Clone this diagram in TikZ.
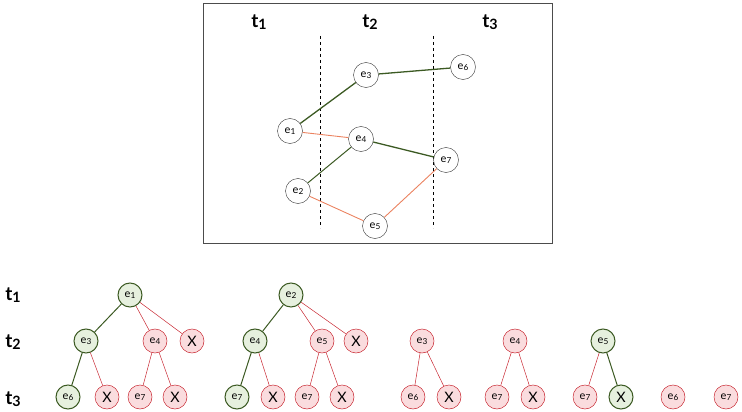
\documentclass[tikz,border=0pt]{standalone}
\usepackage{fontspec}
\setmainfont{Lato}
\definecolor{dg}{RGB}{60,90,35}
\definecolor{gf}{RGB}{230,240,222}
\definecolor{pf}{RGB}{250,220,222}
\definecolor{rl}{RGB}{200,40,50}
\definecolor{ol}{RGB}{235,130,95}
\newcommand{\sbx}[1]{\raisebox{-0.25ex}{\scalebox{0.75}{#1}}}
\begin{document}
\begin{tikzpicture}[x=1pt,y=-1pt,
 wn/.style={circle,draw=black!80,fill=white,minimum size=25pt,inner sep=0pt,font=\fontsize{11}{11}\selectfont},
 gn/.style={circle,draw=dg,line width=1pt,fill=gf,minimum size=24pt,inner sep=0pt,font=\fontsize{11}{11}\selectfont},
 pn/.style={circle,draw=rl,line width=0.5pt,fill=pf,minimum size=24pt,inner sep=0pt,font=\fontsize{11}{11}\selectfont},
 ge/.style={draw=dg,line width=1.3pt},
 ge2/.style={draw=dg,line width=1pt},
 oe/.style={draw=ol,line width=0.9pt},
 re/.style={draw=rl,line width=0.5pt},
 tl/.style={font=\fontsize{19}{19}\selectfont\bfseries}]
\useasboundingbox (0,0) rectangle (742,412);
\draw[black!70] (203,3) rectangle (552,243);
\node[tl] (h1) at (259,22) {t\sbx{1}};
\node[tl] (h2) at (370,22) {t\sbx{2}};
\node[tl] (h3) at (490,22) {t\sbx{3}};
\draw[dashed,line width=0.6pt] (320,36) -- (320,228);
\draw[dashed,line width=0.6pt] (433,36) -- (433,228);
\node[wn] (a1) at (290,131) {e\sbx{1}};
\node[wn] (a2) at (298,191) {e\sbx{2}};
\node[wn] (a3) at (366,75) {e\sbx{3}};
\node[wn] (a4) at (361,139) {e\sbx{4}};
\node[wn] (a5) at (375,226) {e\sbx{5}};
\node[wn] (a6) at (463,67) {e\sbx{6}};
\node[wn] (a7) at (446,160) {e\sbx{7}};
\draw[ge] (a1) -- (a3); \draw[ge] (a3) -- (a6); \draw[ge] (a4) -- (a7);
\draw[ge2] (a2) -- (a4);
\draw[oe] (a1) -- (a4); \draw[oe] (a2) -- (a5); \draw[oe] (a5) -- (a7);
\node[tl] (l1) at (13,295) {t\sbx{1}};
\node[tl] (l2) at (13,342) {t\sbx{2}};
\node[tl] (l3) at (13,399) {t\sbx{3}};
% tree 1
\node[gn] (r1) at (130,295) {e\sbx{1}};
\node[gn] (r1a) at (86,341) {e\sbx{3}};
\node[pn] (r1b) at (155,341) {e\sbx{4}};
\node[pn] (r1c) at (192,341) {\Large X};
\node[gn] (r1d) at (68,397) {e\sbx{6}};
\node[pn] (r1e) at (107,397) {\Large X};
\node[pn] (r1f) at (140,397) {e\sbx{7}};
\node[pn] (r1g) at (175,397) {\Large X};
\draw[ge2] (r1) -- (r1a); \draw[re] (r1) -- (r1b); \draw[re] (r1) -- (r1c);
\draw[ge2] (r1a) -- (r1d); \draw[re] (r1a) -- (r1e);
\draw[re] (r1b) -- (r1f); \draw[re] (r1b) -- (r1g);
% tree 2
\node[gn] (r2) at (291,295) {e\sbx{2}};
\node[gn] (r2a) at (255,341) {e\sbx{4}};
\node[pn] (r2b) at (322,341) {e\sbx{5}};
\node[pn] (r2c) at (356,341) {\Large X};
\node[gn] (r2d) at (237,397) {e\sbx{7}};
\node[pn] (r2e) at (273,397) {\Large X};
\node[pn] (r2f) at (307,397) {e\sbx{7}};
\node[pn] (r2g) at (342,397) {\Large X};
\draw[ge2] (r2) -- (r2a); \draw[re] (r2) -- (r2b); \draw[re] (r2) -- (r2c);
\draw[ge2] (r2a) -- (r2d); \draw[re] (r2a) -- (r2e);
\draw[re] (r2b) -- (r2f); \draw[re] (r2b) -- (r2g);
% small trees
\node[pn] (s1) at (422,341) {e\sbx{3}};
\node[pn] (s1a) at (413,397) {e\sbx{6}};
\node[pn] (s1b) at (449,397) {\Large X};
\draw[re] (s1) -- (s1a); \draw[re] (s1) -- (s1b);
\node[pn] (s2) at (515,341) {e\sbx{4}};
\node[pn] (s2a) at (497,397) {e\sbx{7}};
\node[pn] (s2b) at (533,397) {\Large X};
\draw[re] (s2) -- (s2a); \draw[re] (s2) -- (s2b);
\node[gn] (s3) at (603,341) {e\sbx{5}};
\node[pn] (s3a) at (585,397) {e\sbx{7}};
\node[gn] (s3b) at (621,397) {\Large X};
\draw[re] (s3) -- (s3a); \draw[ge2] (s3) -- (s3b);
\node[pn] (s4) at (673,397) {e\sbx{6}};
\node[pn] (s5) at (726,397) {e\sbx{7}};
\end{tikzpicture}
\end{document}
